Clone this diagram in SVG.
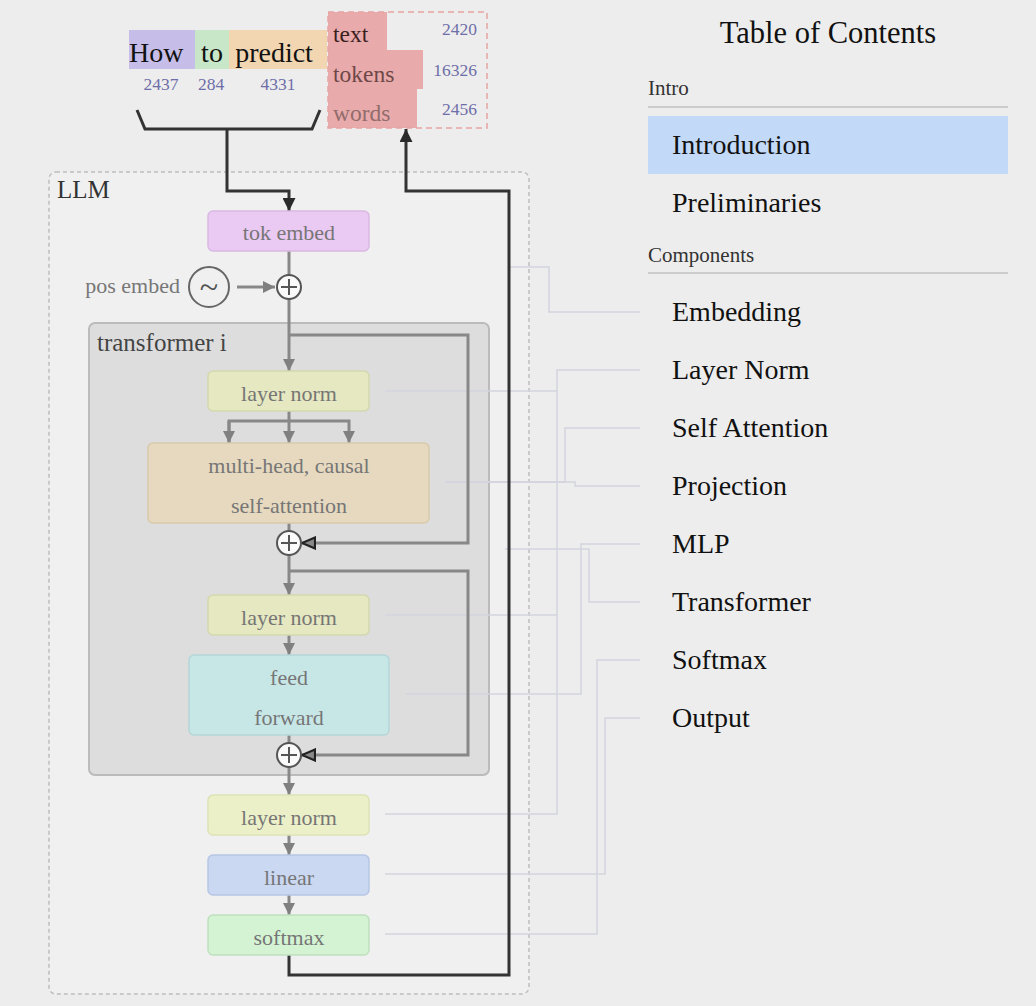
<svg xmlns="http://www.w3.org/2000/svg" width="1036" height="1006" viewBox="0 0 1036 1006">
<style>
text{font-family:"Liberation Serif","Times New Roman",serif}
.nl{font-size:22px;fill:#767676;text-anchor:middle}
.num{font-size:17.5px;fill:#6e6ea8}
.tok{font-size:28px;fill:#111}
.toc{font-size:28px;fill:#111}
.sec{font-size:21px;fill:#333}
.g{fill:none;stroke:#888;stroke-width:3}
.k{fill:none;stroke:#333;stroke-width:3}
.t{fill:none;stroke:#d3d3df;stroke-width:1.5}
.plus{fill:#fafafa;stroke:#555;stroke-width:2}
.pl{stroke:#555;stroke-width:2}
.node{stroke-width:1.5}
</style>
<defs>
<marker id="ag" markerUnits="userSpaceOnUse" markerWidth="12" markerHeight="12" refX="12" refY="6" orient="auto"><path d="M0,0L12,6L0,12z" fill="#808080"/></marker>
<marker id="ak" markerUnits="userSpaceOnUse" markerWidth="13" markerHeight="13" refX="13" refY="6.5" orient="auto"><path d="M0,0L13,6.5L0,13z" fill="#2a2a2a"/></marker>
<marker id="ar" markerUnits="userSpaceOnUse" markerWidth="16" markerHeight="14" refX="14" refY="7" orient="auto"><path d="M1,1.5L14,7L1,12.5z" fill="#8a8a8a" stroke="#222" stroke-width="2.2"/></marker>
</defs>
<rect width="1036" height="1006" fill="#ededed"/>

<g id="containers">
<rect id="llm" x="49" y="172" width="480" height="822" rx="7" fill="#f0f0f0" stroke="#bdbdbd" stroke-width="1.5" stroke-dasharray="4,3"/>
<text x="57" y="198" font-size="25" fill="#333">LLM</text>
<rect id="transformer" x="89" y="323" width="400" height="452" rx="6" fill="#dddddd" stroke="#bbbbbb" stroke-width="2"/>
<text x="97" y="351" font-size="25" fill="#444">transformer i</text>
</g>

<g id="input">
<rect x="129" y="30" width="66" height="39" fill="#c6bde8"/>
<rect x="195" y="30" width="34" height="39" fill="#c8e6c8"/>
<rect x="229" y="30" width="98" height="39" fill="#f1d6b1"/>
<text class="tok" x="129" y="62">How</text>
<text class="tok" x="212" y="62" text-anchor="middle">to</text>
<text class="tok" x="274" y="62" text-anchor="middle">predict</text>
<text class="num" x="161" y="90" text-anchor="middle">2437</text>
<text class="num" x="211" y="90" text-anchor="middle">284</text>
<text class="num" x="278" y="90" text-anchor="middle">4331</text>
</g>

<g id="output">
<rect x="328" y="12" width="59" height="38" fill="#e8aaaa"/>
<rect x="328" y="50" width="95" height="39" fill="#e8aaaa"/>
<rect x="328" y="89" width="89" height="39" fill="#e8aaaa"/>
<rect x="328" y="12" width="159" height="116" fill="none" stroke="#e8a4a4" stroke-width="1.5" stroke-dasharray="6,4"/>
<text x="333" y="42" font-size="23.5" fill="#3a1f1f">text</text>
<text x="333" y="82" font-size="23.5" fill="#6e4848">tokens</text>
<text x="333" y="121" font-size="23.5" fill="#926c6c">words</text>
<text class="num" x="477" y="35" text-anchor="end">2420</text>
<text class="num" x="477" y="76" text-anchor="end">16326</text>
<text class="num" x="477" y="115" text-anchor="end">2456</text>
</g>

<g id="toc">
<text x="828" y="43" font-size="30.5" fill="#111" text-anchor="middle">Table of Contents</text>
<text class="sec" x="648" y="95">Intro</text>
<line x1="648" y1="107" x2="1008" y2="107" stroke="#cccccc" stroke-width="2"/>
<rect x="648" y="116" width="360" height="58" fill="#c3d9f8"/>
<text class="toc" x="672" y="154">Introduction</text>
<text class="toc" x="672" y="212">Preliminaries</text>
<text class="sec" x="648" y="262">Components</text>
<line x1="648" y1="273" x2="1008" y2="273" stroke="#cccccc" stroke-width="2"/>
<text class="toc" x="672" y="321">Embedding</text>
<text class="toc" x="672" y="379">Layer Norm</text>
<text class="toc" x="672" y="437">Self Attention</text>
<text class="toc" x="672" y="495">Projection</text>
<text class="toc" x="672" y="553">MLP</text>
<text class="toc" x="672" y="611">Transformer</text>
<text class="toc" x="672" y="669">Softmax</text>
<text class="toc" x="672" y="727">Output</text>
</g>

<g id="connectors">
<path class="t" d="M640,312H549V267H508"/>
<path class="t" d="M640,370H557V814H385M557,391H385M557,615H385"/>
<path class="t" d="M640,428H565V482H445"/>
<path class="t" d="M640,486H575V482H445"/>
<path class="t" d="M640,544H581V694H406"/>
<path class="t" d="M640,602H589V549H505"/>
<path class="t" d="M640,660H597V934H385"/>
<path class="t" d="M640,718H605V874H385"/>

<path class="g" d="M289,251V275"/>
<path class="g" d="M237,287H275" marker-end="url(#ag)"/>
<path class="g" d="M289,299V371" marker-end="url(#ag)"/>
<path class="g" d="M289,335H468V543H302" marker-end="url(#ar)"/>
<path class="g" d="M289,411V443" marker-end="url(#ag)"/>
<path class="g" d="M229,443V421H349V443" marker-end="url(#ag)"/>
<path class="g" d="M229,421V443" marker-end="url(#ag)"/>
<path class="g" d="M289,523V531"/>
<path class="g" d="M289,555V595" marker-end="url(#ag)"/>
<path class="g" d="M289,571H468V755H302" marker-end="url(#ar)"/>
<path class="g" d="M289,635V655" marker-end="url(#ag)"/>
<path class="g" d="M289,735V743"/>
<path class="g" d="M289,767V795" marker-end="url(#ag)"/>
<path class="g" d="M289,835V855" marker-end="url(#ag)"/>
<path class="g" d="M289,895V915" marker-end="url(#ag)"/>

<path class="k" d="M137,110L145,129H312L320,110"/>
<path class="k" d="M227,129V191H289V211" marker-end="url(#ak)"/>
<path class="k" d="M289,955V975H509V191H406V129" marker-end="url(#ak)"/>
</g>

<g id="tok-embed"><rect class="node" x="208" y="211" width="161" height="40" rx="5" fill="#eac9f2" stroke="#d9b8e2"/><text class="nl" x="289" y="240" fill="#7a6a80">tok embed</text></g>

<g id="pos-embed">
<text x="180" y="293" font-size="22" fill="#777" text-anchor="end">pos embed</text>
<circle cx="209" cy="287" r="20" fill="none" stroke="#666" stroke-width="2"/>
<text x="209" y="298" font-size="34" fill="#555" text-anchor="middle">~</text>
</g>

<g id="add-pos"><circle class="plus" cx="289" cy="287" r="12"/><path class="pl" d="M281,287H297M289,279V295"/></g>

<g id="layer-norm-1"><rect class="node" x="208" y="371" width="161" height="40" rx="5" fill="#e5e8c1" stroke="#d4d8ae"/><text class="nl" x="289" y="401">layer norm</text></g>

<g id="attention"><rect class="node" x="148" y="443" width="281" height="80" rx="5" fill="#e6d9bf" stroke="#d8caa9"/><text class="nl" x="289" y="473">multi-head, causal</text><text class="nl" x="289" y="513">self-attention</text></g>

<g id="add-1"><circle class="plus" cx="289" cy="543" r="12"/><path class="pl" d="M281,543H297M289,535V551"/></g>

<g id="layer-norm-2"><rect class="node" x="208" y="595" width="161" height="40" rx="5" fill="#e5e8c1" stroke="#d4d8ae"/><text class="nl" x="289" y="625">layer norm</text></g>

<g id="feed-forward"><rect class="node" x="189" y="655" width="200" height="80" rx="5" fill="#c7e6e6" stroke="#b5d6d9"/><text class="nl" x="289" y="685">feed</text><text class="nl" x="289" y="725">forward</text></g>

<g id="add-2"><circle class="plus" cx="289" cy="755" r="12"/><path class="pl" d="M281,755H297M289,747V763"/></g>

<g id="layer-norm-3"><rect class="node" x="208" y="795" width="161" height="40" rx="5" fill="#ecf0c9" stroke="#dde2b6"/><text class="nl" x="289" y="825">layer norm</text></g>

<g id="linear"><rect class="node" x="208" y="855" width="161" height="40" rx="5" fill="#cad8f2" stroke="#b6c6e4"/><text class="nl" x="289" y="885" fill="#6e7488">linear</text></g>

<g id="softmax"><rect class="node" x="208" y="915" width="161" height="40" rx="5" fill="#d3f3d3" stroke="#bfe0bf"/><text class="nl" x="289" y="945">softmax</text></g>
</svg>
